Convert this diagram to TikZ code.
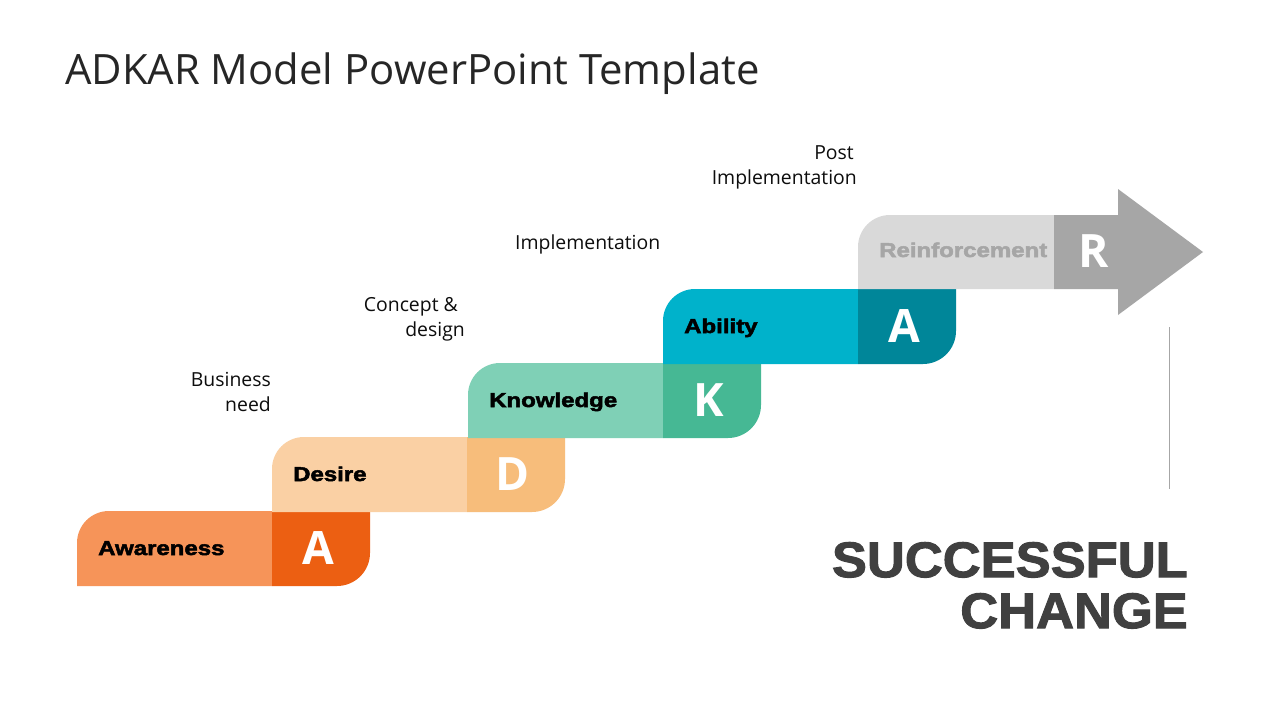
\documentclass[tikz,border=0pt]{standalone}
\usepackage{fontspec}
\setmainfont{Open Sans}
\newfontfamily\heavyfont[FakeBold=2.5,FakeStretch=1.2]{Liberation Sans Bold}
\newfontfamily\bigheavyfont[FakeBold=2,FakeStretch=1.05]{Liberation Sans Bold}

\definecolor{awL}{RGB}{246,148,89}\definecolor{awD}{RGB}{236,95,18}
\definecolor{deL}{RGB}{250,208,164}\definecolor{deD}{RGB}{247,189,123}
\definecolor{knL}{RGB}{127,208,182}\definecolor{knD}{RGB}{70,184,148}
\definecolor{abL}{RGB}{0,178,203}\definecolor{abD}{RGB}{0,134,153}
\definecolor{reL}{RGB}{217,217,217}\definecolor{reD}{RGB}{166,166,166}
\definecolor{titlegray}{RGB}{38,38,38}
\definecolor{biggray}{RGB}{64,64,64}

\tikzset{
  lbl/.style={font=\fontsize{19.4}{25}\selectfont, inner sep=0, text=black!95},
  word/.style={font=\heavyfont\fontsize{20}{24}\selectfont, anchor=base west, inner sep=0},
  letter/.style={font=\bfseries\fontsize{46}{46}\selectfont, text=white, inner sep=0},
}

\begin{document}
\begin{tikzpicture}[x=1pt,y=-1pt]
\useasboundingbox[fill=white] (0,0) rectangle (1280,720);

% title
\node[anchor=base west, inner sep=0, text=titlegray, font=\fontsize{41.8}{42}\selectfont] (title) at (65,84) {ADKAR Model PowerPoint Template};

% the four steps
\foreach \x/\y/\lc/\dc/\w/\l/\n in {77/511/awL/awD/Awareness/A/aw, 272/437/deL/deD/Desire/D/de, 468/363/knL/knD/Knowledge/K/kn, 663/289/abL/abD/Ability/A/ab}
{
  \fill[\lc] (\x,\y+75) -- (\x,\y+32) .. controls (\x,\y+14.3) and (\x+14.3,\y) .. (\x+32,\y) -- (\x+195,\y) -- (\x+195,\y+75) -- cycle;
  \fill[\dc] (\x+195,\y) -- (\x+293,\y) -- (\x+293,\y+42) .. controls (\x+293,\y+60.2) and (\x+278.2,\y+75) .. (\x+260,\y+75) -- (\x+195,\y+75) -- cycle;
  \node[word] (\n-word) at (\x+21,\y+44) {\w};
  \node[letter] (\n-letter) at (\x+241,\y+37) {\l};
}

% last step with the arrow
\fill[reL] (858,289) -- (858,247) .. controls (858,229.3) and (872.3,215) .. (890,215) -- (1054,215) -- (1054,289) -- cycle;
\fill[reD] (1054,215) -- (1118,215) -- (1118,189) -- (1203,252) -- (1118,315) -- (1118,289) -- (1054,289) -- cycle;
\node[word, text=reD] (re-word) at (879,257) {Reinforcement};
\node[letter] (re-letter) at (1094,251) {R};

% phase labels
\node[lbl, anchor=north east, align=right] (need) at (271,372) {Business\\need};
\node[lbl, anchor=north east, align=right] (concept) at (465,297) {Concept \&\hspace*{7pt}\\design};
\node[lbl, anchor=north west] (impl) at (515,235) {Implementation};
\node[lbl, anchor=north east, align=right] (post) at (857,145) {Post\hspace*{3pt}\\Implementation};

% divider and result
\draw[reD, line width=1pt] (1169,327) -- (1169,489);
\node[anchor=north east, align=right, inner sep=0, text=biggray, font=\bigheavyfont\fontsize{50}{51}\selectfont] (result) at (1188,542) {SUCCESSFUL\\CHANGE};
\end{tikzpicture}
\end{document}
